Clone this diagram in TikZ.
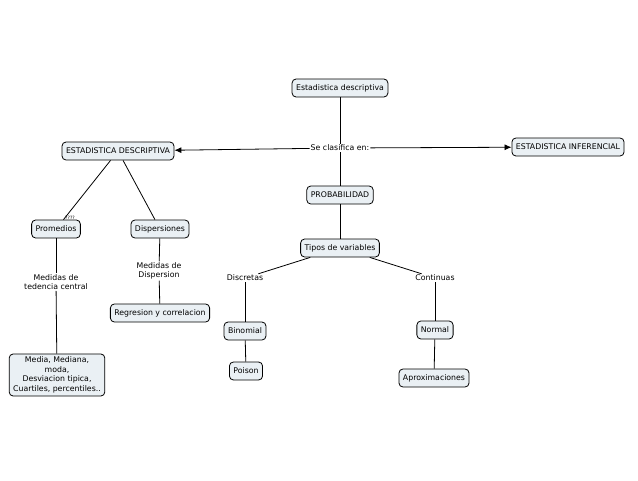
\documentclass[tikz,border=0pt]{standalone}
\usepackage{fontspec}
\setmainfont{DejaVu Sans}
\usetikzlibrary{arrows.meta}
\definecolor{boxfill}{HTML}{EAF0F4}
\begin{document}
\begin{tikzpicture}[x=1pt,y=-1pt,
  box/.style={draw=black,fill=boxfill,rounded corners=4pt,font=\fontsize{7.8}{9.5}\selectfont,inner xsep=4pt,inner ysep=3pt,minimum height=18pt,align=center,line width=0.8pt},
  lbl/.style={font=\fontsize{7.8}{9.5}\selectfont,align=center,fill=white,inner sep=1pt},
  ln/.style={draw=black,line width=0.8pt},
  arr/.style={ln,-{Latex[length=7pt,width=6pt]}}]
\useasboundingbox (0,0) rectangle (638,480);
\node[box] (ed) at (340,88) {Estadistica descriptiva};
\node[lbl] (se) at (340,148) {Se clasifica en:};
\node[box] (ED) at (118,151) {ESTADISTICA DESCRIPTIVA};
\node[box] (EI) at (568,147) {ESTADISTICA INFERENCIAL};
\node[box] (pr) at (340,195) {PROBABILIDAD};
\node[box] (tv) at (340,248) {Tipos de variables};
\node[lbl] (di) at (245,278) {Discretas};
\node[lbl] (co) at (435,278) {Continuas};
\node[box] (bi) at (245,331) {Binomial};
\node[box] (po) at (246,371) {Poison};
\node[box] (no) at (435,330) {Normal};
\node[box] (ap) at (434,378) {Aproximaciones};
\node[box] (pm) at (56,229) {Promedios};
\node[font=\fontsize{4.5}{4.5}\selectfont] (q) at (70,218) {????};
\node[box] (ds) at (160,229) {Dispersiones};
\node[lbl] (mt) at (56,282) {Medidas de\\tedencia central};
\node[lbl] (md) at (159,271) {Medidas de\\Dispersion};
\node[box] (rc) at (160,313) {Regresion y correlacion};
\node[box] (me) at (57,375) {Media, Mediana,\\moda,\\Desviacion tipica,\\Cuartiles, percentiles..};
\draw[ln] (ed) -- (se);
\draw[arr] (se) -- (ED);
\draw[arr] (se) -- (EI);
\draw[ln] (se) -- (pr);
\draw[ln] (pr) -- (tv);
\draw[ln] (tv) -- (di);
\draw[ln] (di) -- (bi);
\draw[ln] (bi) -- (po);
\draw[ln] (tv) -- (co);
\draw[ln] (co) -- (no);
\draw[ln] (no) -- (ap);
\draw[ln] (ED) -- (pm);
\draw[ln] (ED) -- (ds);
\draw[ln] (pm) -- (mt);
\draw[ln] (mt) -- (me);
\draw[ln] (ds) -- (md);
\draw[ln] (md) -- (rc);
\end{tikzpicture}
\end{document}
